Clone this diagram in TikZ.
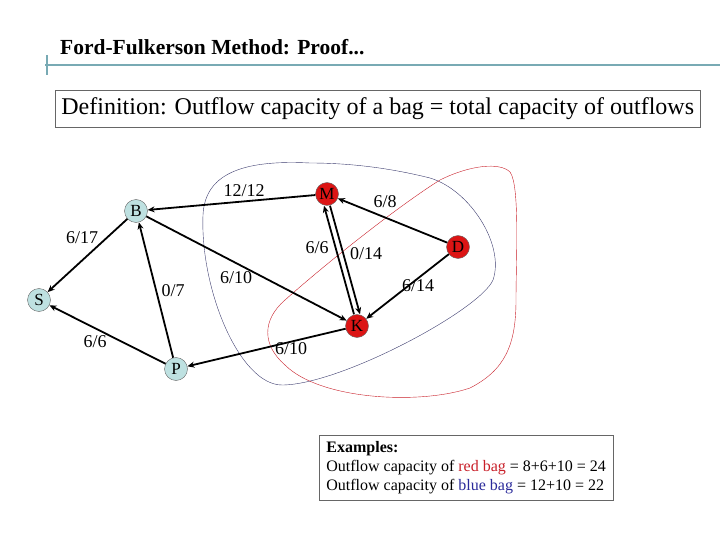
\documentclass[tikz,border=0pt]{standalone}
\usepackage{fontspec}
\setmainfont{Liberation Serif}
\usetikzlibrary{arrows.meta}
\definecolor{teal1}{RGB}{120,170,180}
\definecolor{nodeblue}{RGB}{190,225,225}
\definecolor{nodered}{RGB}{220,20,20}
\definecolor{bagblue}{RGB}{60,60,110}
\definecolor{bagred}{RGB}{200,30,40}
\tikzset{
 vtx/.style={circle,draw=black!60,minimum size=23pt,inner sep=0pt,font=\fontsize{17}{17}\selectfont},
 bl/.style={vtx,fill=nodeblue},
 rd/.style={vtx,fill=nodered},
 edge/.style={-{Stealth[length=7pt,width=6pt]},line width=1.8pt},
 lab/.style={font=\fontsize{18}{18}\selectfont},
}
\begin{document}
\begin{tikzpicture}[x=1pt,y=-1pt]
\useasboundingbox (0,0) rectangle (720,540);
\node[font=\bfseries\fontsize{21.5}{21.5}\selectfont,anchor=west,inner sep=0pt] (title) at (60,47) {Ford-Fulkerson Method: Proof...};
\draw[teal1,line width=1.5pt] (45,65) -- (720,65);
\draw[teal1,line width=1.5pt] (47,55) -- (47,75);
\node[draw=black!60,minimum width=645pt,minimum height=37pt,anchor=north west,font=\fontsize{24}{24}\selectfont] (def) at (55,90) {Definition: Outflow capacity of a bag = total capacity of outflows};
% bags
\draw[bagblue] (310,163) .. controls (250,160) and (205,170) .. (203,215)
  .. controls (200,290) and (240,385) .. (282,385)
  .. controls (340,385) and (480,310) .. (493,280)
  .. controls (505,245) and (470,190) .. (430,178)
  .. controls (390,168) and (350,163) .. (310,163);
\draw[bagred] (440,180) .. controls (470,165) and (500,162) .. (510,172)
  .. controls (520,185) and (516,260) .. (516,300)
  .. controls (516,345) and (505,370) .. (470,388)
  .. controls (420,405) and (320,400) .. (285,365)
  .. controls (262,345) and (262,320) .. (285,300)
  .. controls (330,260) and (400,205) .. (440,180);
% nodes
\node[bl] (S) at (39,300) {S};
\node[bl] (B) at (136,211) {B};
\node[bl] (P) at (176,369) {P};
\node[rd] (M) at (327,194) {M};
\node[rd] (D) at (458,247) {D};
\node[rd] (K) at (357,326) {K};
% edges
\draw[edge] (M) -- (B);
\draw[edge] (B) -- (S);
\draw[edge] (P) -- (S);
\draw[edge] (P) -- (B);
\draw[edge] (B) -- (K);
\draw[edge] (D) -- (M);
\draw[edge] (D) -- (K);
\draw[edge] (K) -- (P);
\draw[edge] ([xshift=-3pt]K.north) -- ([xshift=-3pt]M.south);
\draw[edge] ([xshift=3pt]M.south) -- ([xshift=3pt]K.north);
% labels
\node[lab] (l1) at (244,191) {12/12};
\node[lab] (l2) at (82,238) {6/17};
\node[lab] (l3) at (173,291) {0/7};
\node[lab] (l4) at (95,342) {6/6};
\node[lab] (l5) at (236,278) {6/10};
\node[lab] (l6) at (291,349) {6/10};
\node[lab] (l7) at (385,202) {6/8};
\node[lab] (l8) at (317,248) {6/6};
\node[lab] (l9) at (366,254) {0/14};
\node[lab] (l10) at (418,286) {6/14};
% examples
\node[draw=black!60,minimum width=294pt,minimum height=65pt,anchor=north west,align=left,inner sep=6pt,font=\fontsize{16}{19}\selectfont] (ex) at (319,435)
 {\textbf{Examples:}\\
 Outflow capacity of \textcolor{bagred}{red bag} = 8+6+10 = 24\\
 Outflow capacity of \textcolor{bagblue!70!blue}{blue bag} = 12+10 = 22};
\end{tikzpicture}
\end{document}
